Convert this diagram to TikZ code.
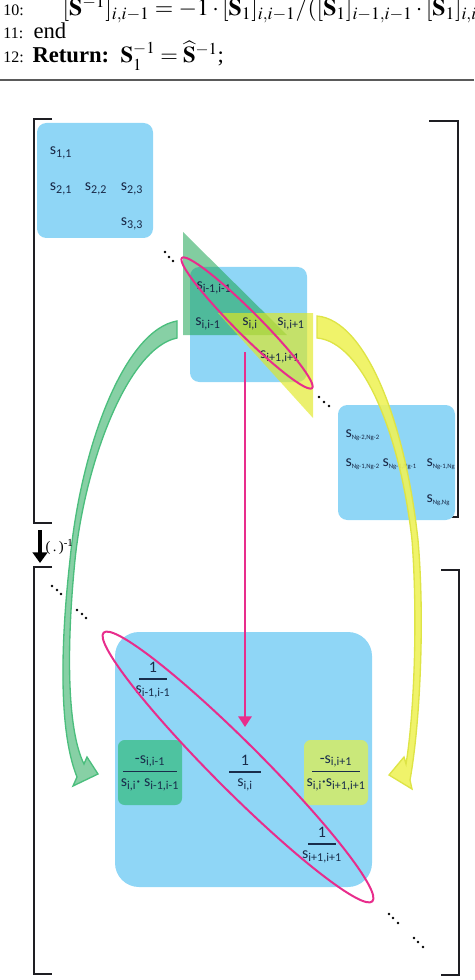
\documentclass[tikz,border=0pt]{standalone}
\usepackage{amsmath}
\usepackage{mathptmx}
\usepackage{fontspec}
\setmainfont{Liberation Serif}
\newfontfamily\calfont{Carlito}
\usetikzlibrary{arrows.meta}

\newcommand{\ngs}[1]{\textsubscript{\fontsize{5}{6}\selectfont #1}}
\newcommand{\ifr}[3]{$\genfrac{}{}{0.9pt}{0}{\makebox[#1]{#2}}{\makebox[#1]{#3}}$}

\tikzset{every picture/.style={line width=0.75pt}}
\tikzset{
  algtxt/.style={anchor=base west, inner sep=0pt, font=\fontsize{17}{20}\selectfont},
  algnum/.style={anchor=base west, inner sep=0pt, font=\fontsize{12}{14}\selectfont},
  bracket/.style={draw={rgb, 255:red, 30; green, 30; blue, 35}, line width=1.5pt},
  blk/.style={fill={rgb, 255:red, 143; green, 214; blue, 246}},
  ent/.style={inner sep=0.75pt, text={rgb, 255:red, 25; green, 40; blue, 70}, font=\calfont\fontsize{12}{14}\selectfont},
  frc/.style={inner sep=0.75pt, text={rgb, 255:red, 25; green, 45; blue, 75}, font=\calfont\fontsize{12}{14}\selectfont},
  pinkring/.style={draw={rgb, 255:red, 232; green, 45; blue, 140}, line width=1.5pt},
  dotc/.style={fill=black}
}

\begin{document}
\begin{tikzpicture}[x=0.75pt,y=0.75pt,yscale=-1,xscale=1]
\useasboundingbox (0,0) rectangle (474,980);

% Text Node
\node (n10) [algnum] at (3,16) {10:};
\node (l10) [algtxt, font=\fontsize{17.8}{20}\selectfont] at (62,16) {$[\mathbf{S}^{-1}]_{i,i-1} = -1\cdot[\mathbf{S}_1]_{i,i-1}/([\mathbf{S}_1]_{i-1,i-1}\cdot[\mathbf{S}_1]_{i,i})$};
% Text Node
\node (n11) [algnum] at (3,39) {11:};
\node (l11) [algtxt] at (33,39) {end};
% Text Node
\node (n12) [algnum] at (3,63) {12:};
\node (l12) [algtxt] at (32,63) {\textbf{Return:}\ \ $\mathbf{S}_1^{-1}=\widehat{\mathbf{S}}^{-1}$;};
%Straight Lines [rule]
\draw [draw={rgb, 255:red, 90; green, 90; blue, 90}, line width=1.5pt] (0,80) -- (474,80);

%Brackets
\draw [bracket] (52,119) -- (34,119) -- (34,523) -- (52,523);
\draw [bracket] (429,121) -- (458,121) -- (458,517) -- (429,517);
\draw [bracket] (52,567) -- (34,567) -- (34,974) -- (52,974);
\draw [bracket] (441,570) -- (459,570) -- (459,975) -- (441,975);

%Inverse arrow
\draw [line width=3.5pt, -{Triangle[width=11pt,length=8pt]}] (40,530) -- (40,563);

%Upper blocks
\fill [blk, rounded corners=7pt] (37,123) rectangle (153,238);
\fill [blk, rounded corners=7pt] (190,267) rectangle (307,382);
\fill [blk, rounded corners=7pt] (338,405) rectangle (455,520);
%Triangles
\fill [fill={rgb, 255:red, 27; green, 164; blue, 82}, fill opacity=0.55] (183,232) -- (183,335) -- (287,335) -- cycle;
\fill [fill={rgb, 255:red, 225; green, 232; blue, 32}, fill opacity=0.65] (218,313) -- (313,313) -- (313,418) -- cycle;

% Text Node
\node (s11) [ent] at (61,153) {s\textsubscript{1,1}};
\node (s21) [ent] at (61,189) {s\textsubscript{2,1}};
\node (s22) [ent] at (96,189) {s\textsubscript{2,2}};
\node (s23) [ent] at (132,189) {s\textsubscript{2,3}};
\node (s33) [ent] at (132,224) {s\textsubscript{3,3}};
% Text Node
\node (smm) [ent] at (214,288) {s\textsubscript{i-1,i-1}};
\node (sim) [ent] at (208,324) {s\textsubscript{i,i-1}};
\node (sii) [ent] at (250,324) {s\textsubscript{i,i}};
\node (sip) [ent] at (291,324) {s\textsubscript{i,i+1}};
\node (spp) [ent] at (280,357) {s\textsubscript{i+1,i+1}};
% Text Node
\node (ng22) [ent, anchor=west] at (344,435) {s\ngs{Ng-2,Ng-2}};
\node (ng12) [ent, anchor=west] at (344,464) {s\ngs{Ng-1,Ng-2}};
\node (ng11) [ent, anchor=west] at (381,464) {s\ngs{Ng-1,Ng-1}};
\node (ng10) [ent, anchor=west] at (425,464) {s\ngs{Ng-1,Ng}};
\node (ng00) [ent, anchor=west] at (425,500) {s\ngs{Ng,Ng}};

%Ellipse
\draw [pinkring, rotate around={45:(247,323)}] (247,323) ellipse (92 and 12);

%Lower block
\fill [blk, rounded corners=18pt] (115,632) rectangle (372,887);
\fill [fill={rgb, 255:red, 78; green, 195; blue, 160}, rounded corners=5pt] (118,740) rectangle (182,805);
\fill [fill={rgb, 255:red, 202; green, 232; blue, 122}, rounded corners=5pt] (304,740) rectangle (368,805);

% Text Node
\node (imm) [frc] at (153,680) {\ifr{21pt}{1}{s\textsubscript{i-1,i-1}}};
\node (iim) [frc] at (150,773) {\ifr{40pt}{-s\textsubscript{i,i-1}}{s\textsubscript{i,i}· s\textsubscript{i-1,i-1}}};
\node (iii) [frc] at (245,773) {\ifr{24pt}{1}{s\textsubscript{i,i}}};
\node (iip) [frc] at (336,773) {\ifr{36pt}{-s\textsubscript{i,i+1}}{s\textsubscript{i,i}·s\textsubscript{i+1,i+1}}};
\node (ipp) [frc] at (322,845) {\ifr{21pt}{1}{s\textsubscript{i+1,i+1}}};

%Ellipse
\draw [pinkring, rotate around={45:(238,767)}] (238,767) ellipse (190 and 24);

%Dots
\foreach \x/\y in {165/252,169/257,173/261, 319/397,324/402,329/406, 52/586,57/590,61/594, 77/610,82/614,86/618, 389/914,393/918,398/923, 414/938,418/942,423/947}
  \fill [dotc] (\x,\y) circle (1.4);

%Curved arrows
\filldraw [fill={rgb, 255:red, 135; green, 208; blue, 165}, draw={rgb, 255:red, 75; green, 190; blue, 125}, line width=1pt]
  (177,321) .. controls (125,330) and (81,445) .. (70,560) .. controls (61,640) and (58,730) .. (77,777)
  -- (73,786) -- (98,774) -- (87,757) -- (84,764)
  .. controls (66,728) and (67,640) .. (75,560) .. controls (85,462) and (128,348) .. (177,338) -- cycle;
\filldraw [fill={rgb, 255:red, 238; green, 242; blue, 90}, draw={rgb, 255:red, 222; green, 228; blue, 70}, fill opacity=0.9, line width=1pt]
  (317,316) .. controls (365,320) and (405,420) .. (418,540) .. controls (425,620) and (420,725) .. (410,780)
  -- (412,789) -- (389,775) -- (404,757) -- (406,764)
  .. controls (414,715) and (418,620) .. (412,540) .. controls (400,432) and (362,342) .. (317,338) -- cycle;

% Text Node
\node (inv) [anchor=west, inner sep=0pt, font=\fontsize{11}{13}\selectfont] at (45,547) {(\,.\,)\textsuperscript{-1}};

%Pink arrow
\coordinate (pstart) at (245,352);
\coordinate (pend) at (245,727);
\draw [draw={rgb, 255:red, 232; green, 45; blue, 140}, line width=1.5pt, -{Triangle[width=10pt,length=8pt]}] (pstart) -- (pend);
\end{tikzpicture}
\end{document}
